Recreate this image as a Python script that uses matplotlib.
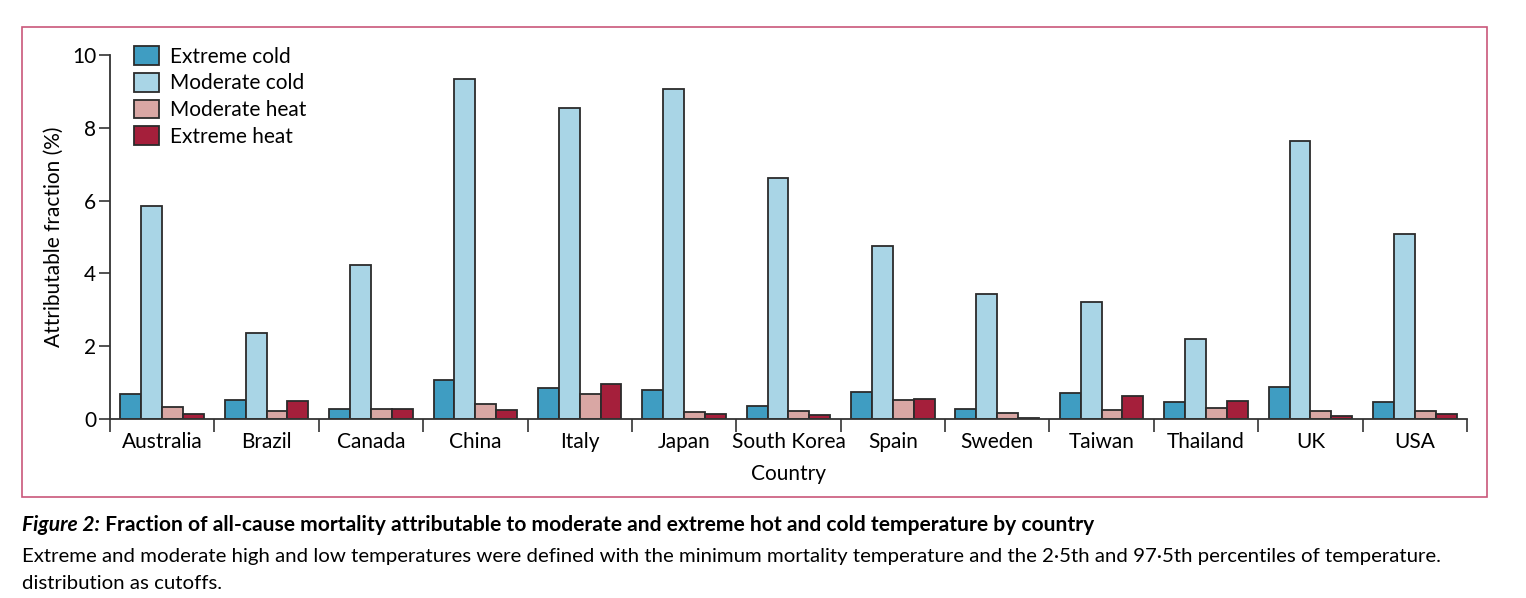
import numpy as np
import matplotlib
matplotlib.use("Agg")
import matplotlib.pyplot as plt
from matplotlib.patches import Rectangle

countries = ["Australia", "Brazil", "Canada", "China", "Italy", "Japan", "South Korea",
             "Spain", "Sweden", "Taiwan", "Thailand", "UK", "USA"]
extreme_cold = [0.69, 0.51, 0.27, 1.07, 0.86, 0.79, 0.36, 0.73, 0.28, 0.72, 0.46, 0.87, 0.47]
moderate_cold = [5.85, 2.35, 4.23, 9.34, 8.54, 9.07, 6.62, 4.75, 3.43, 3.21, 2.19, 7.64, 5.08]
moderate_heat = [0.33, 0.23, 0.27, 0.41, 0.69, 0.19, 0.21, 0.53, 0.16, 0.24, 0.30, 0.23, 0.23]
extreme_heat = [0.15, 0.49, 0.28, 0.25, 0.97, 0.14, 0.10, 0.54, 0.03, 0.62, 0.49, 0.07, 0.13]

series = [("Extreme cold", extreme_cold, "#3f9dc2"),
          ("Moderate cold", moderate_cold, "#a9d5e6"),
          ("Moderate heat", moderate_heat, "#d9a7a4"),
          ("Extreme heat", extreme_heat, "#a51f3b")]

plt.rcParams['font.family'] = ['Lato', 'DejaVu Sans']

fig = plt.figure(figsize=(15.26, 5.98), dpi=100)
ax = fig.add_axes([0.0721, 0.2993, 0.8892, 0.6087])

x = np.arange(len(countries)) + 0.5
w = 0.2
for i, (name, vals, col) in enumerate(series):
    ax.bar(x + (i - 1.5) * w, vals, width=w, color=col, edgecolor="#2b2b2b",
           linewidth=1.3, label=name, zorder=2)

ax.set_xlim(0, len(countries))
ax.set_ylim(0, 10)
ax.set_yticks([0, 2, 4, 6, 8, 10])
ax.set_xticks(np.arange(len(countries) + 1))
ax.set_xticklabels([])
ax.set_xticks(x, minor=True)
ax.set_xticklabels(countries, minor=True)
ax.tick_params(axis="x", which="minor", length=0, pad=9, labelsize=15)
ax.tick_params(axis="x", which="major", length=9, width=1.2, color="#333333")
ax.tick_params(axis="y", length=8, width=1.2, color="#333333", labelsize=15, pad=2)
for s in ["top", "right"]:
    ax.spines[s].set_visible(False)
for s in ["left", "bottom"]:
    ax.spines[s].set_linewidth(1.3)
    ax.spines[s].set_color("#333333")

ax.set_ylabel("Attributable fraction (%)", fontsize=15, labelpad=6)
ax.set_xlabel("Country", fontsize=15, labelpad=9)

ax.legend(loc="upper left", bbox_to_anchor=(0.007, 1.064), frameon=False, fontsize=15,
          handlelength=1.2, handleheight=1.0, handletextpad=0.5, labelspacing=0.3,
          borderaxespad=0.3)

fig.patches.append(Rectangle((0.0144, 0.1689), 0.96, 0.7859, transform=fig.transFigure,
                             fill=False, edgecolor="#c9587a", linewidth=1.2))

t1 = fig.text(0.0144, 0.112, "Figure 2:", fontsize=15, fontweight="bold", fontstyle="italic")
t2 = ax.annotate(" Fraction of all-cause mortality attributable to moderate and extreme hot and cold temperature by country",
                 xy=(1, 0), xycoords=t1, fontsize=15, fontweight="bold", va="bottom", ha="left",
                 annotation_clip=False)
t3 = fig.text(0.0144, 0.061, "Extreme and moderate high and low temperatures were defined with the minimum mortality "
              "temperature and the 2\u00b75th and 97\u00b75th percentiles of temperature.", fontsize=15)
t4 = fig.text(0.0144, 0.015, "distribution as cutoffs.", fontsize=15)

# fit caption lines to the widths seen in the reference
r = fig.canvas.get_renderer()
scale = 1423.0 / t3.get_window_extent(r).width
t3.set_fontsize(15 * scale)
t4.set_fontsize(15 * scale)
bold_w = t1.get_window_extent(r).width + t2.get_window_extent(r).width
bscale = 1075.0 / bold_w
t1.set_fontsize(15 * bscale)
t2.set_fontsize(15 * bscale)

fig.savefig("out.png", dpi=100)
